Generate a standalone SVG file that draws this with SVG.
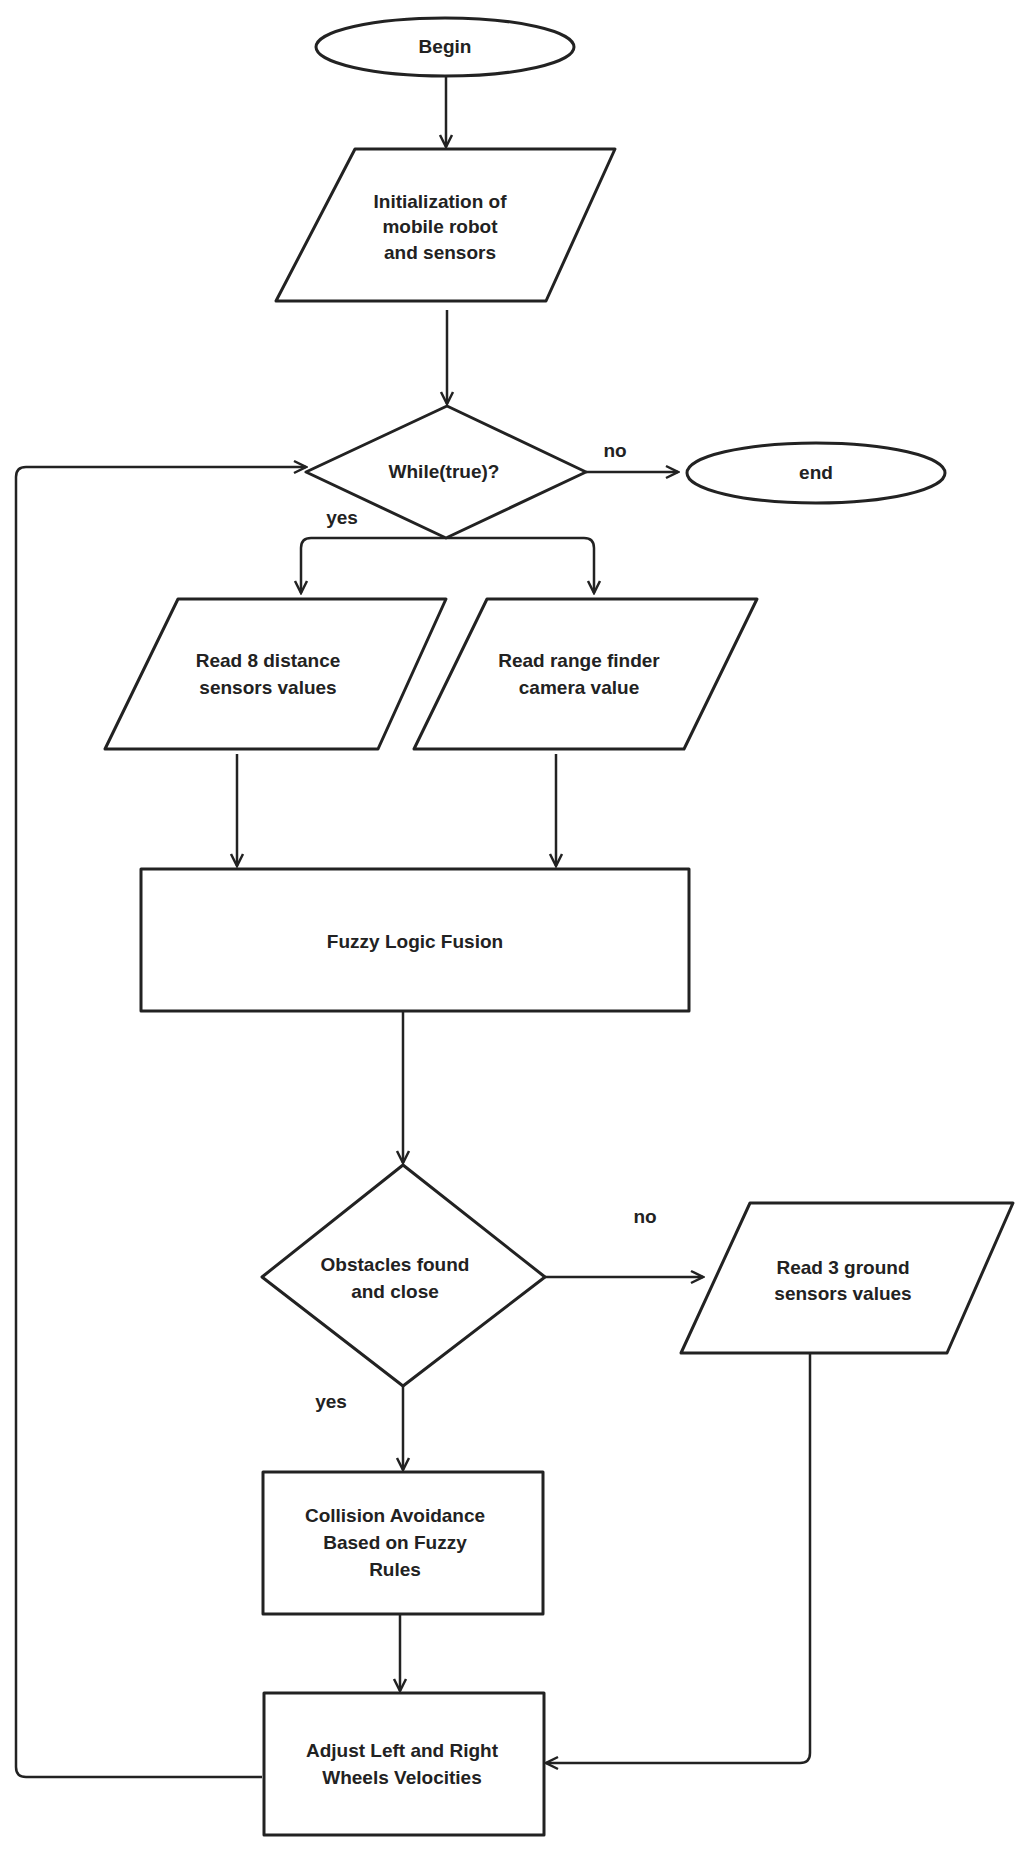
<svg xmlns="http://www.w3.org/2000/svg" width="1024" height="1855" viewBox="0 0 1024 1855">
<style>
.s{fill:#fff;stroke:#222;stroke-width:3;stroke-linejoin:round}
.c{fill:none;stroke:#222;stroke-width:2.5;stroke-linejoin:round}
text{font-family:"Liberation Sans",Arial,sans-serif;font-weight:bold;font-size:19px;fill:#222;text-anchor:middle}
</style>
<defs>
<marker id="a" viewBox="0 0 16 16" refX="14" refY="8" markerWidth="16" markerHeight="16" markerUnits="userSpaceOnUse" orient="auto">
<polyline points="2,2 14,8 2,14" fill="none" stroke="#222" stroke-width="2.5"/>
</marker>
</defs>
<rect width="1024" height="1855" fill="#fff"/>
<g id="connectors">
<line class="c" x1="446" y1="76" x2="446" y2="147" marker-end="url(#a)"/>
<line class="c" x1="447" y1="310" x2="447" y2="404" marker-end="url(#a)"/>
<line class="c" x1="586" y1="472" x2="678" y2="472" marker-end="url(#a)"/>
<path class="c" d="M446,538 H311 Q301,538 301,548 V593" marker-end="url(#a)"/>
<path class="c" d="M446,538 H584 Q594,538 594,548 V593" marker-end="url(#a)"/>
<line class="c" x1="237" y1="754" x2="237" y2="866" marker-end="url(#a)"/>
<line class="c" x1="556" y1="754" x2="556" y2="866" marker-end="url(#a)"/>
<line class="c" x1="403" y1="1011" x2="403" y2="1163" marker-end="url(#a)"/>
<line class="c" x1="545" y1="1277" x2="703" y2="1277" marker-end="url(#a)"/>
<line class="c" x1="403" y1="1386" x2="403" y2="1470" marker-end="url(#a)"/>
<line class="c" x1="400" y1="1614" x2="400" y2="1691" marker-end="url(#a)"/>
<path class="c" d="M810,1353 V1753 Q810,1763 800,1763 H546" marker-end="url(#a)"/>
<path class="c" d="M262,1777 H26 Q16,1777 16,1767 V477 Q16,467 26,467 H306" marker-end="url(#a)"/>
</g>
<g id="begin"><ellipse class="s" cx="445" cy="47" rx="129" ry="29"/><text x="445" y="53">Begin</text></g>
<g id="init"><polygon class="s" points="355,149 615,149 546,301 276,301"/><text x="440" y="208">Initialization of</text><text x="440" y="233">mobile robot</text><text x="440" y="259">and sensors</text></g>
<g id="while"><polygon class="s" points="447,406 586,472 446,538 306,472"/><text x="444" y="478">While(true)?</text></g>
<g id="end"><ellipse class="s" cx="816" cy="473" rx="129" ry="30"/><text x="816" y="479">end</text></g>
<text x="342" y="524">yes</text>
<text x="615" y="457">no</text>
<g id="read8"><polygon class="s" points="178,599 446,599 378,749 105,749"/><text x="268" y="667">Read 8 distance</text><text x="268" y="694">sensors values</text></g>
<g id="readcam"><polygon class="s" points="487,599 757,599 684,749 414,749"/><text x="579" y="667">Read range finder</text><text x="579" y="694">camera value</text></g>
<g id="fuzzy"><rect class="s" x="141" y="869" width="548" height="142"/><text x="415" y="948">Fuzzy Logic Fusion</text></g>
<g id="obst"><polygon class="s" points="403,1165 545,1277 403,1386 262,1277"/><text x="395" y="1271">Obstacles found</text><text x="395" y="1298">and close</text></g>
<text x="645" y="1223">no</text>
<text x="331" y="1408">yes</text>
<g id="read3"><polygon class="s" points="750,1203 1013,1203 947,1353 681,1353"/><text x="843" y="1274">Read 3 ground</text><text x="843" y="1300">sensors values</text></g>
<g id="collision"><rect class="s" x="263" y="1472" width="280" height="142"/><text x="395" y="1522">Collision Avoidance</text><text x="395" y="1549">Based on Fuzzy</text><text x="395" y="1576">Rules</text></g>
<g id="adjust"><rect class="s" x="264" y="1693" width="280" height="142"/><text x="402" y="1757">Adjust Left and Right</text><text x="402" y="1784">Wheels Velocities</text></g>
</svg>
